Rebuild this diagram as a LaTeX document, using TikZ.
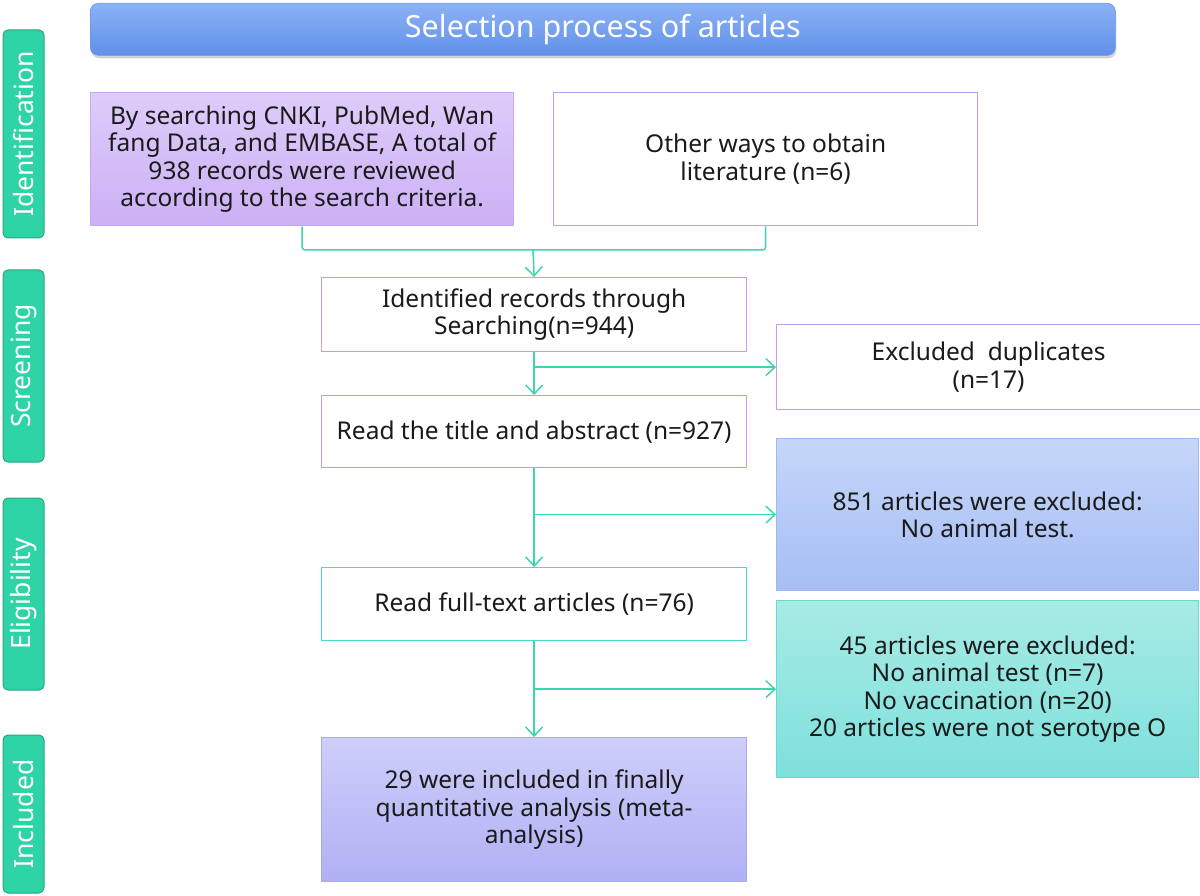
\documentclass[tikz,border=0pt]{standalone}
\usepackage{fontspec}
\setmainfont{Noto Sans}
\usetikzlibrary{arrows.meta,shadows}
\definecolor{teal1}{HTML}{3DD5AE}
\definecolor{sidefill}{HTML}{2ED3A6}
\definecolor{sidedraw}{HTML}{25A883}
\definecolor{purp}{HTML}{C49CEC}
\definecolor{tealb}{HTML}{4AD8C8}
\definecolor{txt}{HTML}{1A1A1A}
\definecolor{titletop}{RGB}{140,178,246}
\definecolor{titlebot}{RGB}{96,144,232}
\definecolor{titledraw}{RGB}{110,150,230}
\definecolor{Adraw}{RGB}{200,168,240}
\definecolor{Atop}{RGB}{222,204,250}
\definecolor{Abot}{RGB}{204,176,245}
\definecolor{Gdraw}{RGB}{160,184,242}
\definecolor{Gtop}{RGB}{198,214,249}
\definecolor{Gbot}{RGB}{166,190,245}
\definecolor{Idraw}{RGB}{100,218,208}
\definecolor{Itop}{RGB}{168,235,229}
\definecolor{Ibot}{RGB}{126,224,220}
\definecolor{Hdraw}{RGB}{170,170,240}
\definecolor{Htop}{RGB}{206,206,250}
\definecolor{Hbot}{RGB}{176,176,245}
\tikzset{
  side/.style={draw=sidedraw,line width=1pt,fill=sidefill,rounded corners=5pt,minimum width=41pt,inner sep=0pt},
  sidetext/.style={text=white,font=\fontsize{26.5}{30}\selectfont,rotate=90,inner sep=0pt},
  box/.style={anchor=north west,line width=1.3pt,align=center,inner sep=2pt,text=txt,
    font=\fontsize{24.5}{27.5}\selectfont},
  conn/.style={draw=teal1,line width=1.5pt},
  arr/.style={conn,-{Straight Barb[length=9pt,width=17pt,line width=1.5pt]}},
}
\begin{document}
\begin{tikzpicture}[x=1pt,y=-1pt]
\useasboundingbox (0,0) rectangle (1200,896);
% title
\node[anchor=north west,minimum width=1025pt,minimum height=52pt,rounded corners=8pt,
  top color=titletop,bottom color=titlebot,draw=titledraw,line width=0.6pt,
  drop shadow={shadow xshift=1pt,shadow yshift=-3pt,opacity=0.35},
  text=white,font=\fontsize{30.5}{34}\selectfont] (title) at (90,3) {Selection process of articles};
% side labels
\node[side,minimum height=208pt] (s1) at (23.5,134) {};
\node[sidetext] (t1) at (s1.center) {Identification};
\node[side,minimum height=192pt] (s2) at (23.5,366) {};
\node[sidetext] (t2) at (s2.center) {Screening};
\node[side,minimum height=192pt] (s3) at (23.5,594) {};
\node[sidetext] (t3) at (s3.center) {Eligibility};
\node[side,minimum height=158pt] (s4) at (23.5,814) {};
\node[sidetext] (t4) at (s4.center) {Included};
% boxes
\node[box,minimum width=423pt,minimum height=133pt,draw=Adraw,top color=Atop,bottom color=Abot] (A) at (90,92)
  {By searching CNKI, PubMed, Wan\\fang Data, and EMBASE, A total of\\938 records were reviewed\\according to the search criteria.};
\node[box,minimum width=424pt,minimum height=133pt,draw=purp,fill=white] (B) at (553,92)
  {Other ways to obtain\\literature (n=6)};
\node[box,minimum width=425pt,minimum height=74pt,draw=purp,fill=white] (C) at (321,277)
  {Identified records through\\Searching(n=944)};
\node[box,minimum width=424pt,minimum height=85pt,draw=purp,fill=white] (E) at (776,324)
  {Excluded\ \ duplicates\\(n=17)};
\node[box,minimum width=425pt,minimum height=72pt,draw=purp,fill=white] (D) at (321,395)
  {Read the title and abstract (n=927)};
\node[box,minimum width=422pt,minimum height=152pt,draw=Gdraw,top color=Gtop,bottom color=Gbot] (G) at (776,438)
  {851 articles were excluded:\\No animal test.};
\node[box,minimum width=425pt,minimum height=73pt,draw=tealb,fill=white] (F) at (321,567)
  {Read full-text articles (n=76)};
\node[box,minimum width=422pt,minimum height=177pt,draw=Idraw,top color=Itop,bottom color=Ibot] (I) at (776,600)
  {45 articles were excluded:\\No animal test (n=7)\\No vaccination (n=20)\\20 articles were not serotype O};
\node[box,minimum width=425pt,minimum height=144pt,draw=Hdraw,top color=Htop,bottom color=Hbot] (H) at (321,737)
  {29 were included in finally\\quantitative analysis (meta-\\analysis)};
% connectors
\coordinate (j1) at (533,250);
\draw[conn,rounded corners=3pt] (A.south) |- (j1) -| (B.south);
\draw[arr] (j1) -- (C.north);
\draw[arr] (C.south) -- (D.north);
\draw[arr] (C.south |- E.west) -- (E.west);
\draw[arr] (D.south) -- (F.north);
\draw[arr] (D.south |- G.west) -- (G.west);
\draw[arr] (F.south) -- (H.north);
\draw[arr] (F.south |- I.west) -- (I.west);
\end{tikzpicture}
\end{document}
